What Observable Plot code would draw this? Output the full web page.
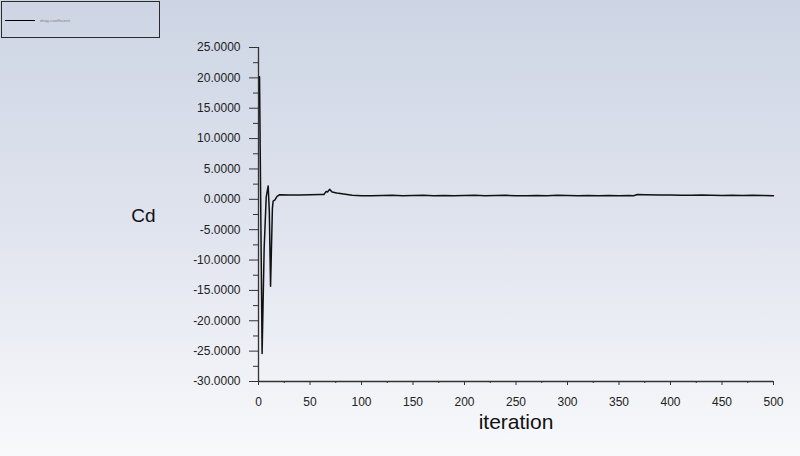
<!DOCTYPE html>
<html>
<head>
<meta charset="utf-8">
<script src="https://cdn.jsdelivr.net/npm/d3@7"></script>
<script src="https://cdn.jsdelivr.net/npm/@observablehq/plot@0.6"></script>
<style>
  html, body { margin: 0; padding: 0; }
  #wrap {
    position: relative; width: 800px; height: 456px; overflow: hidden;
    background: linear-gradient(to bottom, #cdd5e4 0%, #e0e4ee 50%, #f8f9fb 100%);
    font-family: "Liberation Sans", Arial, sans-serif;
  }
  #legend {
    position: absolute; left: 1px; top: 1px; width: 157px; height: 35px;
    border: 1.5px solid #2a2a2a;
  }
  #legend .swatch {
    position: absolute; left: 3px; top: 17.5px; width: 30px; height: 0;
    border-top: 1.4px solid #000;
  }
  #legend .lbl {
    position: absolute; left: 38px; top: 15.5px; font-size: 4.4px; color: #808080;
    white-space: nowrap;
  }
  #chart { position: absolute; left: 0; top: 0; }
</style>
</head>
<body>
<div id="wrap">
  <div id="chart"></div>
  <div id="legend"><div class="swatch"></div><div class="lbl">drag-coefficient</div></div>
</div>
<script>
// ---- data ----
const iterations = [1, 3.5, 5.5, 7.5, 9.4, 10.5, 11.7, 13.5, 14.2, 16, 18, 20.5, 30, 40, 50, 60,
  63.5, 65.7, 67, 69, 71.5, 76, 81, 86, 91, 100, 110, 120, 130, 140, 150, 160, 170, 180, 190,
  200, 210, 220, 230, 240, 250, 260, 270, 280, 290, 300, 310, 320, 330, 340, 350, 360, 364,
  368, 375, 390, 400, 410, 420, 430, 440, 450, 460, 470, 480, 490, 500];
const cd = [20.2, -25.4, -8.0, 0.4, 2.2, -2.0, -14.3, -1.5, -0.3, -0.1, 0.5, 0.75, 0.72, 0.7, 0.74, 0.78,
  0.8, 1.3, 1.2, 1.64, 1.2, 1.05, 0.93, 0.8, 0.66, 0.6, 0.58, 0.62, 0.66, 0.6, 0.62, 0.66, 0.6, 0.62, 0.58,
  0.62, 0.65, 0.6, 0.62, 0.66, 0.6, 0.6, 0.64, 0.6, 0.66, 0.62, 0.6, 0.62, 0.6, 0.64, 0.6, 0.62, 0.58,
  0.78, 0.76, 0.72, 0.7, 0.68, 0.66, 0.7, 0.66, 0.64, 0.66, 0.62, 0.66, 0.62, 0.6];
const yMajor = [-30, -25, -20, -15, -10, -5, 0, 5, 10, 15, 20, 25];
const yMinor = [-27.5, -22.5, -17.5, -12.5, -7.5, -2.5, 2.5, 7.5, 12.5, 17.5, 22.5];
const xMajor = [0, 50, 100, 150, 200, 250, 300, 350, 400, 450, 500];
const xMinor = [25, 75, 125, 175, 225, 275, 325, 375, 425, 475];
const xLabel = "iteration";
const yLabel = "Cd";

const data = iterations.map((it, i) => ({ it, v: cd[i] }));

const chart = Plot.plot({
  width: 800,
  height: 456,
  marginLeft: 258,
  marginRight: 27,
  marginTop: 47,
  marginBottom: 75,
  style: { background: "transparent", fontFamily: "'Liberation Sans', Arial, sans-serif", fontSize: "12px", color: "#222" },
  x: { domain: [0, 500] },
  y: { domain: [-30, 25] },
  marks: [
    Plot.axisY({ ticks: yMajor, tickSize: 9, tickPadding: 9, tickFormat: d => d.toFixed(4), label: null, stroke: "#333" }),
    Plot.axisY({ ticks: yMinor, tickSize: 5, tickFormat: () => "", label: null, stroke: "#333" }),
    Plot.axisX({ ticks: xMajor, tickSize: 4, tickPadding: 11.8, tickFormat: d => String(d), label: null, stroke: "#333" }),
    Plot.axisX({ ticks: xMinor, tickSize: 2, tickFormat: () => "", label: null, stroke: "#333" }),
    Plot.ruleX([0], { stroke: "#333", strokeWidth: 1.3 }),
    Plot.ruleY([-30], { stroke: "#333", strokeWidth: 1.3 }),
    Plot.line(data, { x: "it", y: "v", stroke: "#111", strokeWidth: 1.5 }),
    Plot.text([yLabel], { text: d => d, frameAnchor: "left", dx: -115, dy: 1.6, fontSize: 19, fill: "#111", textAnchor: "middle" }),
    Plot.text([xLabel], { text: d => d, frameAnchor: "bottom", dy: 47.3, fontSize: 21, fill: "#111", textAnchor: "middle" })
  ]
});
document.getElementById("chart").appendChild(chart);
</script>
</body>
</html>
